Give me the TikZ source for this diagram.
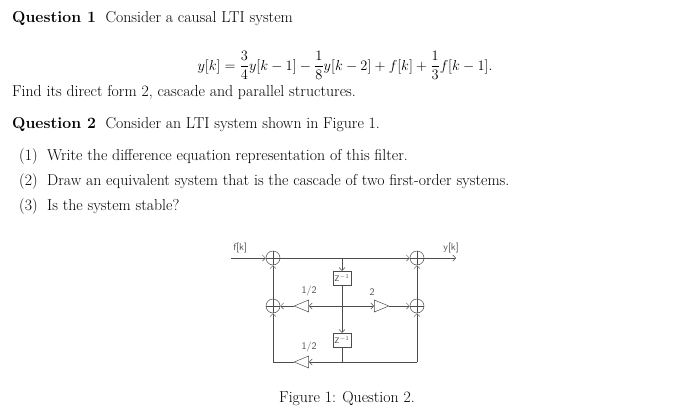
\documentclass[tikz,border=0pt]{standalone}
\usepackage{amsmath}
\usetikzlibrary{arrows.meta,shapes.geometric}
\begin{document}
\begin{tikzpicture}[x=1pt,y=-1pt,
  txt/.style={anchor=base west,inner sep=0pt,font=\fontsize{15.8}{19}\selectfont},
  sml/.style={inner sep=0pt,font=\sffamily\fontsize{10}{11}\selectfont},
  add/.style={circle,draw,minimum size=14pt,inner sep=0pt,path picture={\draw (path picture bounding box.north)--(path picture bounding box.south) (path picture bounding box.west)--(path picture bounding box.east);}},
  dly/.style={draw,minimum width=18pt,minimum height=14pt,inner sep=0pt,font=\sffamily\fontsize{8}{9}\selectfont},
  gl/.style={draw,isosceles triangle,shape border rotate=180,minimum width=12pt,minimum height=0pt,inner sep=1.5pt},
  arr/.style={-{Straight Barb[length=3pt]}},
  ln/.style={gray!60!black,line width=0.5pt}]
\useasboundingbox (0,0) rectangle (688,410);
\node[txt] (q1) at (12,22) {\textbf{Question 1}\ \ Consider a causal LTI system};
\node[anchor=base,inner sep=0pt,font=\fontsize{15.8}{19}\selectfont] (eq) at (345,70) {$\displaystyle y[k]=\frac{3}{4}y[k-1]-\frac{1}{8}y[k-2]+f[k]+\frac{1}{3}f[k-1].$};
\node[txt] (f1) at (12,96) {Find its direct form 2, cascade and parallel structures.};
\node[txt] (q2) at (12,128) {\textbf{Question 2}\ \ Consider an LTI system shown in Figure 1.};
\node[txt] (a1) at (19,160) {(1)\ \ Write the difference equation representation of this filter.};
\node[txt] (a2) at (19,185) {(2)\ \ Draw an equivalent system that is the cascade of two first-order systems.};
\node[txt] (a3) at (19,210) {(3)\ \ Is the system stable?};
\node[anchor=base,inner sep=0pt,font=\fontsize{15.8}{19}\selectfont] (cap) at (347,402) {Figure 1: Question 2.};
\begin{scope}[ln]
\coordinate (in) at (231,258);
\coordinate (out) at (456,258);
\node[add] (s1) at (273,258) {};
\node[add] (s2) at (273,306) {};
\node[add] (s3) at (417,258) {};
\node[add] (s4) at (417,306) {};
\node[dly] (d1) at (342,278) {Z$^{-1}$};
\node[dly] (d2) at (342,340) {Z$^{-1}$};
\coordinate (m) at (342,306);
\coordinate (t) at (342,258);
\coordinate (b) at (342,362);
\coordinate (bl) at (273,362);
\coordinate (br) at (417,362);
\node[gl] (g1) at (305,306) {};
\node[gl,shape border rotate=0] (g2) at (378,306) {};
\node[gl] (g3) at (305,362) {};
\node[sml,anchor=south] (l1) at (309,296) {1/2};
\node[sml,anchor=south] (l2) at (372,296) {2};
\node[sml,anchor=south] (l3) at (309,352) {1/2};
\node[sml,anchor=south west] (fk) at (233,253) {f[k]};
\node[sml,anchor=south east] (yk) at (459,253) {y[k]};
\draw[arr] (in) -- (s1);
\draw[arr] (s1) -- (s3);
\draw[arr] (s3) -- (out);
\draw[arr] (t) -- (d1);
\draw (d1) -- (m);
\draw[arr] (m) -- (d2);
\draw[arr] (m) -- (g1);
\draw[arr] (m) -- (g2);
\draw[arr] (g1) -- (s2);
\draw[arr] (g2) -- (s4);
\draw[arr] (s2) -- (s1);
\draw[arr] (s4) -- (s3);
\draw (d2) -- (b);
\draw[arr] (br) -- (g3);
\draw (g3) -- (bl);
\draw[arr] (bl) -- (s2);
\draw[arr] (br) -- (s4);
\end{scope}
\end{tikzpicture}
\end{document}
